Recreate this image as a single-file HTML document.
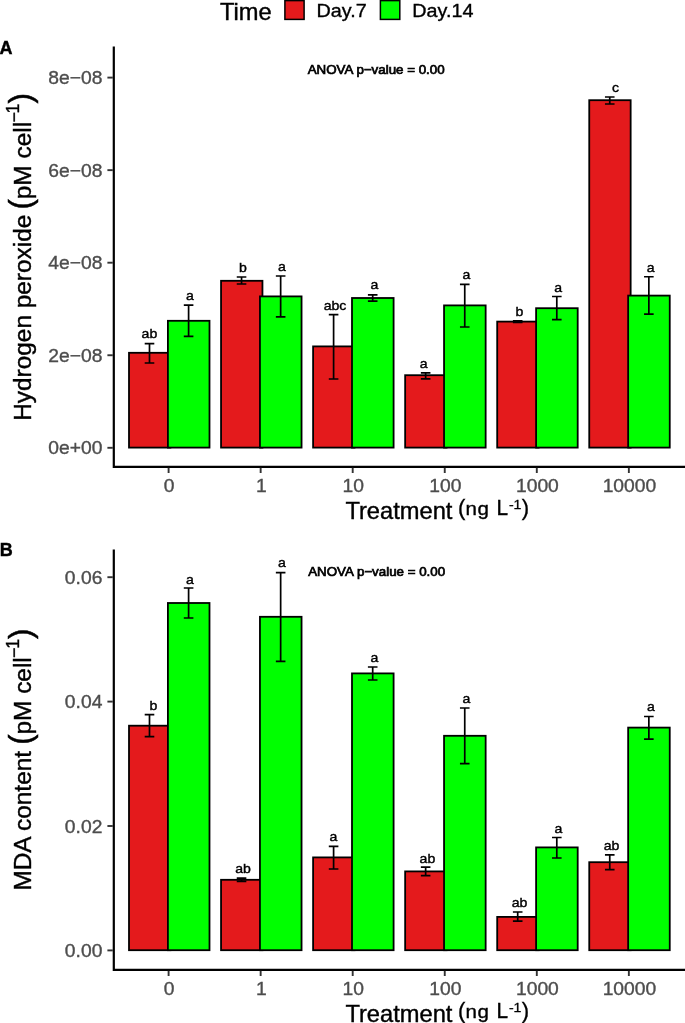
<!DOCTYPE html>
<html><head><meta charset="utf-8"><title>Figure</title>
<style>
html,body{margin:0;padding:0;background:#fff;}
svg{display:block;font-family:'Liberation Sans', Arial, Helvetica, sans-serif;}
.lab{font-size:12.8px;text-anchor:middle;fill:#000;stroke:#000;stroke-width:0.4px;}
.tick{font-size:18.2px;fill:#4D4D4D;stroke:#4D4D4D;stroke-width:0.35px;}
.ttl{font-size:23px;fill:#000;stroke:#000;stroke-width:0.4px;}
.sub{font-size:19px;fill:#000;stroke:#000;stroke-width:0.35px;}
.subL{font-size:22.4px;fill:#000;stroke:#000;stroke-width:0.35px;}
.sup{font-size:12.8px;fill:#000;stroke:#000;stroke-width:0.3px;}
.par{font-size:22px;fill:#000;stroke:#000;stroke-width:0.35px;}
.yttl{font-size:24.4px;fill:#000;stroke:#000;stroke-width:0.4px;}
.ysup{font-size:18px;fill:#000;stroke:#000;stroke-width:0.4px;}
.ypar{font-size:31px;fill:#000;stroke:#000;stroke-width:0.5px;}
.leg{font-size:18.8px;fill:#000;stroke:#000;stroke-width:0.35px;}
.tag{font-size:18px;font-weight:bold;fill:#000;stroke:#000;stroke-width:0.4px;}
.anova{font-size:12.6px;fill:#000;stroke:#000;stroke-width:0.7px;}
</style></head><body>
<svg width="685" height="1023" viewBox="0 0 685 1023">
<rect width="685" height="1023" fill="#fff"/>
<!-- legend -->
<text class="ttl" transform="translate(220.00 19.50) scale(1.03 1)">Time</text>
<rect x="284.9" y="0.6" width="19.2" height="18.8" fill="#E41A1C" stroke="#000" stroke-width="1.5"/>
<text class="leg" transform="translate(316.60 17.00) scale(1.05 1)">Day.7</text>
<rect x="380.4" y="0.6" width="19.4" height="18.8" fill="#00FF00" stroke="#000" stroke-width="1.5"/>
<text class="leg" transform="translate(412.30 17.00) scale(1.05 1)">Day.14</text>
<!-- panel A -->
<text class="tag" x="-0.5" y="53.7">A</text>
<text class="anova" transform="translate(307.70 73.50) scale(1.06 1)">ANOVA p−value = 0.00</text>
<rect x="129.00" y="352.80" width="41.40" height="94.80" fill="#E41A1C" stroke="#000" stroke-width="1.8"/>
<rect x="167.90" y="320.80" width="41.60" height="126.80" fill="#00FF00" stroke="#000" stroke-width="1.8"/>
<rect x="221.05" y="280.80" width="41.40" height="166.80" fill="#E41A1C" stroke="#000" stroke-width="1.8"/>
<rect x="259.95" y="296.40" width="41.60" height="151.20" fill="#00FF00" stroke="#000" stroke-width="1.8"/>
<rect x="313.10" y="346.40" width="41.40" height="101.20" fill="#E41A1C" stroke="#000" stroke-width="1.8"/>
<rect x="352.00" y="298.00" width="41.60" height="149.60" fill="#00FF00" stroke="#000" stroke-width="1.8"/>
<rect x="405.15" y="375.20" width="41.40" height="72.40" fill="#E41A1C" stroke="#000" stroke-width="1.8"/>
<rect x="444.05" y="305.40" width="41.60" height="142.20" fill="#00FF00" stroke="#000" stroke-width="1.8"/>
<rect x="497.20" y="321.60" width="41.40" height="126.00" fill="#E41A1C" stroke="#000" stroke-width="1.8"/>
<rect x="536.10" y="308.20" width="41.60" height="139.40" fill="#00FF00" stroke="#000" stroke-width="1.8"/>
<rect x="589.25" y="100.20" width="41.40" height="347.40" fill="#E41A1C" stroke="#000" stroke-width="1.8"/>
<rect x="628.15" y="295.60" width="41.60" height="152.00" fill="#00FF00" stroke="#000" stroke-width="1.8"/>
<path d="M144.70 343.60H154.30M144.70 363.00H154.30M149.50 343.60V363.00" stroke="#000" stroke-width="1.7" fill="none"/>
<path d="M183.80 305.20H193.40M183.80 336.40H193.40M188.60 305.20V336.40" stroke="#000" stroke-width="1.7" fill="none"/>
<path d="M236.75 277.00H246.35M236.75 284.00H246.35M241.55 277.00V284.00" stroke="#000" stroke-width="1.7" fill="none"/>
<path d="M275.85 276.00H285.45M275.85 316.80H285.45M280.65 276.00V316.80" stroke="#000" stroke-width="1.7" fill="none"/>
<path d="M328.80 314.60H338.40M328.80 379.00H338.40M333.60 314.60V379.00" stroke="#000" stroke-width="1.7" fill="none"/>
<path d="M367.90 294.80H377.50M367.90 301.20H377.50M372.70 294.80V301.20" stroke="#000" stroke-width="1.7" fill="none"/>
<path d="M420.85 372.80H430.45M420.85 378.80H430.45M425.65 372.80V378.80" stroke="#000" stroke-width="1.7" fill="none"/>
<path d="M459.95 284.40H469.55M459.95 327.00H469.55M464.75 284.40V327.00" stroke="#000" stroke-width="1.7" fill="none"/>
<path d="M512.90 320.90H522.50M512.90 322.30H522.50M517.70 320.90V322.30" stroke="#000" stroke-width="1.7" fill="none"/>
<path d="M552.00 296.50H561.60M552.00 319.70H561.60M556.80 296.50V319.70" stroke="#000" stroke-width="1.7" fill="none"/>
<path d="M604.95 97.00H614.55M604.95 104.00H614.55M609.75 97.00V104.00" stroke="#000" stroke-width="1.7" fill="none"/>
<path d="M644.05 276.75H653.65M644.05 314.10H653.65M648.85 276.75V314.10" stroke="#000" stroke-width="1.7" fill="none"/>
<text class="lab" transform="translate(149.40 338.40) scale(1.1 1)">ab</text>
<text class="lab" transform="translate(243.00 272.00) scale(1.1 1)">b</text>
<text class="lab" transform="translate(335.00 309.60) scale(1.1 1)">abc</text>
<text class="lab" transform="translate(423.60 368.00) scale(1.1 1)">a</text>
<text class="lab" transform="translate(519.40 316.00) scale(1.1 1)">b</text>
<text class="lab" transform="translate(615.40 92.40) scale(1.1 1)">c</text>
<text class="lab" transform="translate(190.00 300.00) scale(1.1 1)">a</text>
<text class="lab" transform="translate(282.00 270.60) scale(1.1 1)">a</text>
<text class="lab" transform="translate(374.40 289.40) scale(1.1 1)">a</text>
<text class="lab" transform="translate(466.40 279.40) scale(1.1 1)">a</text>
<text class="lab" transform="translate(558.20 291.60) scale(1.1 1)">a</text>
<text class="lab" transform="translate(650.60 272.00) scale(1.1 1)">a</text>
<path d="M113.8 46.4V466.8H685" stroke="#000" stroke-width="2.2" fill="none" stroke-linejoin="miter" stroke-linecap="butt"/>
<path d="M107.4 77.6H112.8" stroke="#333" stroke-width="1.9"/>
<text class="tick" text-anchor="end" transform="translate(102.40 84.20) scale(1.06 1)">8e−08</text>
<path d="M107.4 170.15H112.8" stroke="#333" stroke-width="1.9"/>
<text class="tick" text-anchor="end" transform="translate(102.40 176.75) scale(1.06 1)">6e−08</text>
<path d="M107.4 262.7H112.8" stroke="#333" stroke-width="1.9"/>
<text class="tick" text-anchor="end" transform="translate(102.40 269.30) scale(1.06 1)">4e−08</text>
<path d="M107.4 355.25H112.8" stroke="#333" stroke-width="1.9"/>
<text class="tick" text-anchor="end" transform="translate(102.40 361.85) scale(1.06 1)">2e−08</text>
<path d="M107.4 447.8H112.8" stroke="#333" stroke-width="1.9"/>
<text class="tick" text-anchor="end" transform="translate(102.40 454.40) scale(1.06 1)">0e+00</text>
<path d="M168.60 467.8V473.0" stroke="#333" stroke-width="1.9"/>
<text class="tick" text-anchor="middle" transform="translate(169.20 492.00) scale(1.06 1)">0</text>
<path d="M260.65 467.8V473.0" stroke="#333" stroke-width="1.9"/>
<text class="tick" text-anchor="middle" transform="translate(261.25 492.00) scale(1.06 1)">1</text>
<path d="M352.70 467.8V473.0" stroke="#333" stroke-width="1.9"/>
<text class="tick" text-anchor="middle" transform="translate(353.30 492.00) scale(1.06 1)">10</text>
<path d="M444.75 467.8V473.0" stroke="#333" stroke-width="1.9"/>
<text class="tick" text-anchor="middle" transform="translate(445.35 492.00) scale(1.06 1)">100</text>
<path d="M536.80 467.8V473.0" stroke="#333" stroke-width="1.9"/>
<text class="tick" text-anchor="middle" transform="translate(537.40 492.00) scale(1.06 1)">1000</text>
<path d="M628.85 467.8V473.0" stroke="#333" stroke-width="1.9"/>
<text class="tick" text-anchor="middle" transform="translate(629.45 492.00) scale(1.06 1)">10000</text>
<text class="ttl" transform="translate(345.40 519.00) scale(1.03 1)">Treatment</text>
<text class="par" x="458.1" y="515.0">(</text>
<text class="sub" transform="translate(465.6 514.5) scale(1.08 1)">n</text>
<text class="sub" transform="translate(477.5 514.5) scale(1.08 1)">g</text>
<text class="subL" transform="translate(496.5 514.5) scale(0.93 1)">L</text>
<text class="sup" transform="translate(509.0 509.1) scale(1.1 1)">-</text>
<text class="sup" transform="translate(513.4 509.1) scale(1.1 1)">1</text>
<text class="par" x="521.8" y="515.0">)</text>
<g transform="translate(31.3 420.8) rotate(-90)">
<text class="yttl" x="0" y="0">Hydrogen peroxide</text>
<text class="ypar" x="211.4" y="0">(</text>
<text class="yttl" x="221.6" y="0">pM cell</text>
<text class="ysup" x="298.2" y="-11.6">−</text>
<text class="ysup" x="307.4" y="-12.4">1</text>
<text class="ypar" x="317.2" y="0">)</text>
</g>
<!-- panel B -->
<text class="tag" x="-0.3" y="556">B</text>
<text class="anova" transform="translate(308.20 576.00) scale(1.06 1)">ANOVA p−value = 0.00</text>
<rect x="129.00" y="725.70" width="41.40" height="224.50" fill="#E41A1C" stroke="#000" stroke-width="1.8"/>
<rect x="167.90" y="603.00" width="41.60" height="347.20" fill="#00FF00" stroke="#000" stroke-width="1.8"/>
<rect x="221.05" y="879.80" width="41.40" height="70.40" fill="#E41A1C" stroke="#000" stroke-width="1.8"/>
<rect x="259.95" y="616.80" width="41.60" height="333.40" fill="#00FF00" stroke="#000" stroke-width="1.8"/>
<rect x="313.10" y="857.40" width="41.40" height="92.80" fill="#E41A1C" stroke="#000" stroke-width="1.8"/>
<rect x="352.00" y="673.40" width="41.60" height="276.80" fill="#00FF00" stroke="#000" stroke-width="1.8"/>
<rect x="405.15" y="871.40" width="41.40" height="78.80" fill="#E41A1C" stroke="#000" stroke-width="1.8"/>
<rect x="444.05" y="735.80" width="41.60" height="214.40" fill="#00FF00" stroke="#000" stroke-width="1.8"/>
<rect x="497.20" y="916.90" width="41.40" height="33.30" fill="#E41A1C" stroke="#000" stroke-width="1.8"/>
<rect x="536.10" y="847.40" width="41.60" height="102.80" fill="#00FF00" stroke="#000" stroke-width="1.8"/>
<rect x="589.25" y="862.20" width="41.40" height="88.00" fill="#E41A1C" stroke="#000" stroke-width="1.8"/>
<rect x="628.15" y="727.60" width="41.60" height="222.60" fill="#00FF00" stroke="#000" stroke-width="1.8"/>
<path d="M144.70 714.60H154.30M144.70 736.60H154.30M149.50 714.60V736.60" stroke="#000" stroke-width="1.7" fill="none"/>
<path d="M183.80 588.00H193.40M183.80 618.00H193.40M188.60 588.00V618.00" stroke="#000" stroke-width="1.7" fill="none"/>
<path d="M236.75 878.20H246.35M236.75 881.40H246.35M241.55 878.20V881.40" stroke="#000" stroke-width="1.7" fill="none"/>
<path d="M275.85 572.60H285.45M275.85 661.40H285.45M280.65 572.60V661.40" stroke="#000" stroke-width="1.7" fill="none"/>
<path d="M328.80 846.40H338.40M328.80 869.00H338.40M333.60 846.40V869.00" stroke="#000" stroke-width="1.7" fill="none"/>
<path d="M367.90 667.00H377.50M367.90 680.00H377.50M372.70 667.00V680.00" stroke="#000" stroke-width="1.7" fill="none"/>
<path d="M420.85 867.20H430.45M420.85 875.60H430.45M425.65 867.20V875.60" stroke="#000" stroke-width="1.7" fill="none"/>
<path d="M459.95 708.00H469.55M459.95 763.60H469.55M464.75 708.00V763.60" stroke="#000" stroke-width="1.7" fill="none"/>
<path d="M512.90 912.00H522.50M512.90 921.10H522.50M517.70 912.00V921.10" stroke="#000" stroke-width="1.7" fill="none"/>
<path d="M552.00 837.50H561.60M552.00 858.00H561.60M556.80 837.50V858.00" stroke="#000" stroke-width="1.7" fill="none"/>
<path d="M604.95 854.80H614.55M604.95 869.60H614.55M609.75 854.80V869.60" stroke="#000" stroke-width="1.7" fill="none"/>
<path d="M644.05 716.50H653.65M644.05 739.20H653.65M648.85 716.50V739.20" stroke="#000" stroke-width="1.7" fill="none"/>
<text class="lab" transform="translate(153.30 710.00) scale(1.1 1)">b</text>
<text class="lab" transform="translate(243.00 873.00) scale(1.1 1)">ab</text>
<text class="lab" transform="translate(333.40 841.40) scale(1.1 1)">a</text>
<text class="lab" transform="translate(427.40 862.60) scale(1.1 1)">ab</text>
<text class="lab" transform="translate(519.60 906.90) scale(1.1 1)">ab</text>
<text class="lab" transform="translate(611.50 850.00) scale(1.1 1)">ab</text>
<text class="lab" transform="translate(190.00 583.60) scale(1.1 1)">a</text>
<text class="lab" transform="translate(282.00 567.00) scale(1.1 1)">a</text>
<text class="lab" transform="translate(374.40 662.00) scale(1.1 1)">a</text>
<text class="lab" transform="translate(466.40 703.00) scale(1.1 1)">a</text>
<text class="lab" transform="translate(558.30 832.90) scale(1.1 1)">a</text>
<text class="lab" transform="translate(650.80 711.30) scale(1.1 1)">a</text>
<path d="M113.8 549.4V969.8H685" stroke="#000" stroke-width="2.2" fill="none" stroke-linejoin="miter" stroke-linecap="butt"/>
<path d="M107.4 577.2H112.8" stroke="#333" stroke-width="1.9"/>
<text class="tick" text-anchor="end" transform="translate(102.40 583.80) scale(1.06 1)">0.06</text>
<path d="M107.4 701.6H112.8" stroke="#333" stroke-width="1.9"/>
<text class="tick" text-anchor="end" transform="translate(102.40 708.20) scale(1.06 1)">0.04</text>
<path d="M107.4 826H112.8" stroke="#333" stroke-width="1.9"/>
<text class="tick" text-anchor="end" transform="translate(102.40 832.60) scale(1.06 1)">0.02</text>
<path d="M107.4 950.4H112.8" stroke="#333" stroke-width="1.9"/>
<text class="tick" text-anchor="end" transform="translate(102.40 957.00) scale(1.06 1)">0.00</text>
<path d="M168.60 970.8V976.0" stroke="#333" stroke-width="1.9"/>
<text class="tick" text-anchor="middle" transform="translate(169.20 994.60) scale(1.06 1)">0</text>
<path d="M260.65 970.8V976.0" stroke="#333" stroke-width="1.9"/>
<text class="tick" text-anchor="middle" transform="translate(261.25 994.60) scale(1.06 1)">1</text>
<path d="M352.70 970.8V976.0" stroke="#333" stroke-width="1.9"/>
<text class="tick" text-anchor="middle" transform="translate(353.30 994.60) scale(1.06 1)">10</text>
<path d="M444.75 970.8V976.0" stroke="#333" stroke-width="1.9"/>
<text class="tick" text-anchor="middle" transform="translate(445.35 994.60) scale(1.06 1)">100</text>
<path d="M536.80 970.8V976.0" stroke="#333" stroke-width="1.9"/>
<text class="tick" text-anchor="middle" transform="translate(537.40 994.60) scale(1.06 1)">1000</text>
<path d="M628.85 970.8V976.0" stroke="#333" stroke-width="1.9"/>
<text class="tick" text-anchor="middle" transform="translate(629.45 994.60) scale(1.06 1)">10000</text>
<text class="ttl" transform="translate(345.40 1022.00) scale(1.03 1)">Treatment</text>
<text class="par" x="458.1" y="1018.0">(</text>
<text class="sub" transform="translate(465.6 1017.5) scale(1.08 1)">n</text>
<text class="sub" transform="translate(477.5 1017.5) scale(1.08 1)">g</text>
<text class="subL" transform="translate(496.5 1017.5) scale(0.93 1)">L</text>
<text class="sup" transform="translate(509.0 1012.1) scale(1.1 1)">-</text>
<text class="sup" transform="translate(513.4 1012.1) scale(1.1 1)">1</text>
<text class="par" x="521.8" y="1018.0">)</text>
<g transform="translate(31.3 890.6) rotate(-90)">
<text class="yttl" x="0" y="0">MDA content</text>
<text class="ypar" x="145.9" y="0">(</text>
<text class="yttl" x="156.1" y="0">pM cell</text>
<text class="ysup" x="232.7" y="-11.6">−</text>
<text class="ysup" x="241.9" y="-12.4">1</text>
<text class="ypar" x="251.7" y="0">)</text>
</g>
</svg>
</body></html>
